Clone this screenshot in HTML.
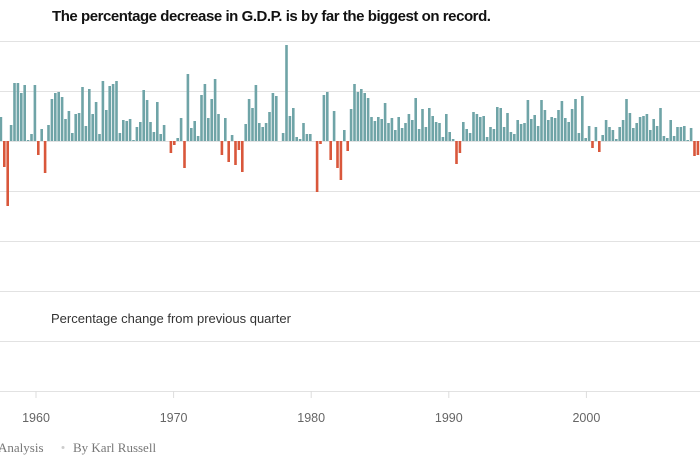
<!DOCTYPE html>
<html><head><meta charset="utf-8"><style>
body{margin:0;background:#fff;width:700px;height:467px;overflow:hidden;position:relative;font-family:"Liberation Sans",sans-serif}
.t{position:absolute;left:52px;top:8px;font-weight:bold;font-size:15px;color:#121212;letter-spacing:-0.45px}
</style></head><body>
<div class="t">The percentage decrease in G.D.P. is by far the biggest on record.</div>
<svg id="s" width="700" height="467" style="position:absolute;left:0;top:0"></svg>
<script>
var v=[24,-26,-65,16,58,58,48,56,1,7,56,-14,12,-32,16,42,48,49,44,22,30,8,27,28,54,15,52,27,39,7,60,31,55,57,60,8,21,20,22,1,14,19,51,41,19,9,39,7,16,0,-12,-4,3,23,-27,67,13,20,5,46,57,23,42,62,27,-14,23,-21,6,-24,-9,-31,17,42,33,56,18,14,18,29,48,45,0,8,96,25,33,4,2,18,7,7,0,-51,-3,46,49,-19,30,-27,-39,11,-10,32,57,49,52,48,43,24,20,24,22,38,18,23,11,24,13,18,27,21,43,12,32,14,33,25,19,18,4,27,9,2,-23,-12,19,12,8,29,27,24,25,4,14,12,34,33,14,28,9,7,21,17,18,41,22,26,15,41,31,21,24,23,31,40,23,19,32,42,8,45,3,15,-7,14,-11,6,21,14,11,2,14,21,42,28,13,18,24,25,27,11,22,15,33,5,3,21,5,14,14,15,1,13,-15,-14];
var h='';
[41,91,141,191,241,291,341,391].forEach(function(y){h+='<line x1="0" x2="700" y1="'+y+'.5" y2="'+y+'.5" stroke="#e2e2e2"/>';});
v.forEach(function(d,i){var x=i*3.4-0.4;if(d>=0)h+='<rect x="'+x+'" y="'+(141-d)+'" width="2.6" height="'+d+'" fill="#6fa4a7"/>';else h+='<rect x="'+x+'" y="141" width="2.6" height="'+(-d)+'" fill="#d9573b"/>';});
[1960,1970,1980,1990,2000].forEach(function(yr,k){var x=36+k*137.6;h+='<line x1="'+x+'" x2="'+x+'" y1="391" y2="398" stroke="#ddd"/><text x="'+x+'" y="422" text-anchor="middle" font-size="12.5" fill="#666" font-family="Liberation Sans,sans-serif">'+yr+'</text>';});
h+='<text x="51" y="323" font-size="13" fill="#333" font-family="Liberation Sans,sans-serif">Percentage change from previous quarter</text>';
h+='<text x="-2" y="452" font-size="13" fill="#777" font-family="Liberation Serif,serif">Analysis</text><circle cx="63" cy="447.5" r="1.5" fill="#ccc"/><text x="73" y="452" font-size="13" fill="#777" font-family="Liberation Serif,serif">By Karl Russell</text>';
document.getElementById('s').innerHTML=h;
</script>
</body></html>
